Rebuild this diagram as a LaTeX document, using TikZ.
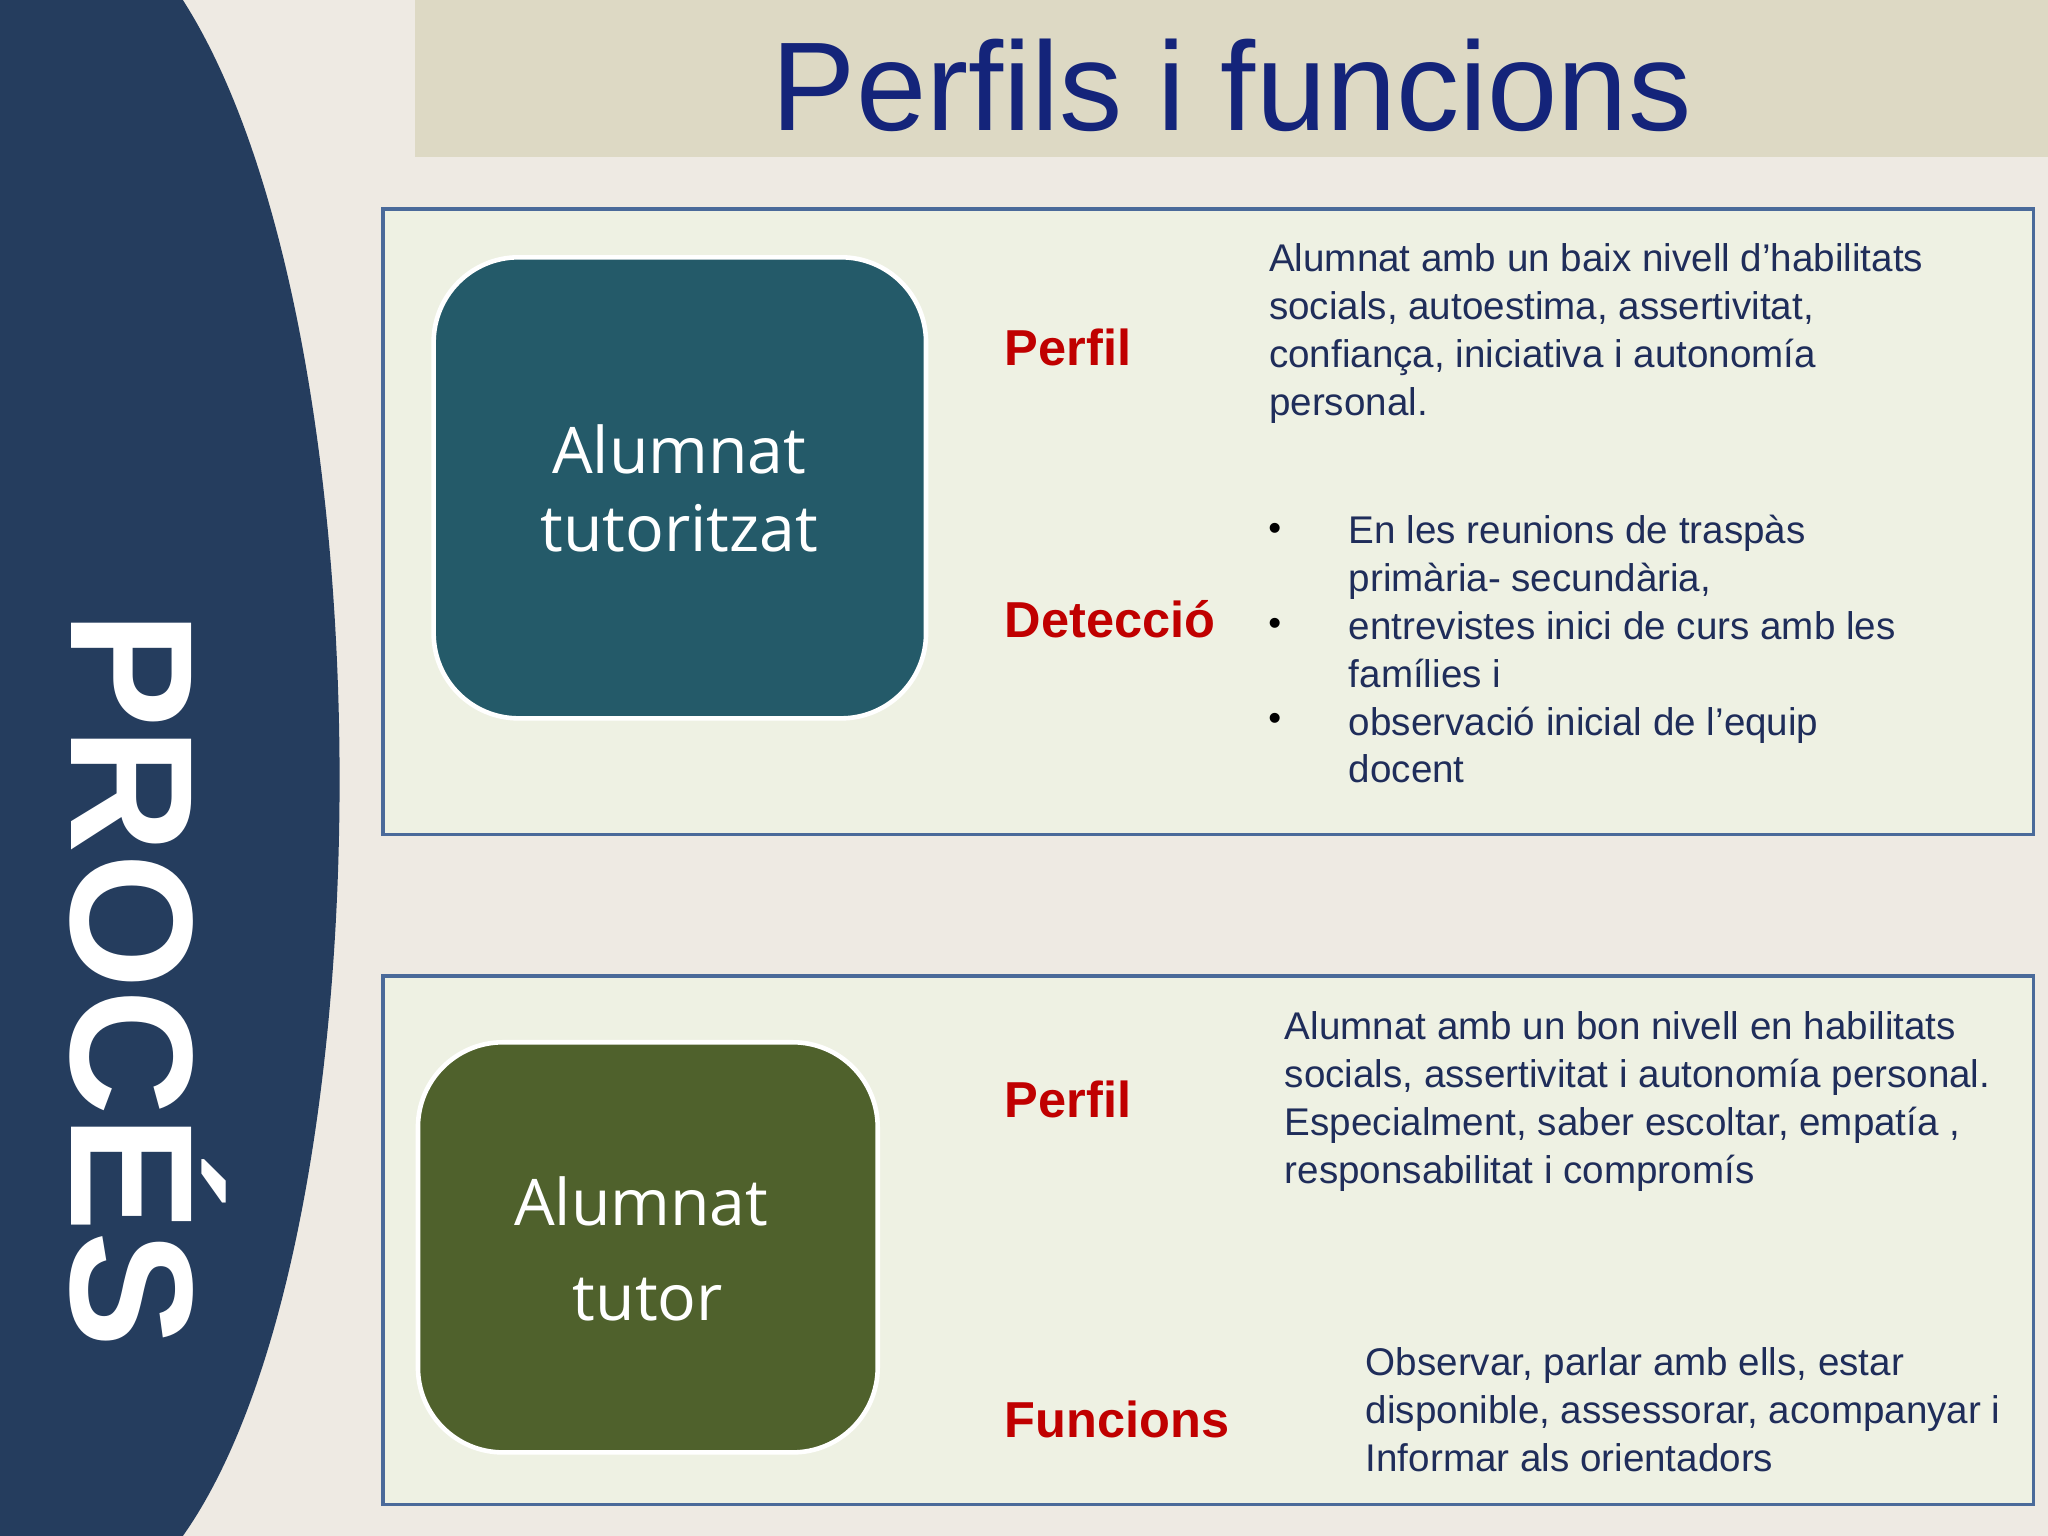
\documentclass[tikz,border=0pt]{standalone}
\usepackage{fontspec}
\setmainfont{Liberation Sans}
\newfontfamily\boxfont{Open Sans}
\definecolor{bg}{HTML}{EEEAE3}
\definecolor{navy}{HTML}{253D5E}
\definecolor{band}{HTML}{DDD9C4}
\definecolor{ttl}{HTML}{14247A}
\definecolor{panel}{HTML}{EEF1E3}
\definecolor{pborder}{HTML}{4A6A9A}
\definecolor{teal}{HTML}{245A69}
\definecolor{olive}{HTML}{4F612C}
\definecolor{redl}{HTML}{C00000}
\definecolor{txt}{HTML}{1F2D5A}
\tikzset{
 panelbox/.style={draw=pborder,line width=0.8pt,fill=panel},
 rbox/.style={draw=white,line width=1pt,rounded corners=0.65cm},
 boxtxt/.style={text=white,font=\boxfont\fontsize{14}{17}\selectfont,align=center},
 lbl/.style={anchor=west,text=redl,font=\bfseries\fontsize{11}{13}\selectfont},
 body/.style={anchor=north west,text=txt,font=\fontsize{8.4}{10.4}\selectfont,align=left,inner sep=0pt},
}
\begin{document}
\begin{tikzpicture}[x=0.01cm,y=-0.01cm]
\fill[bg] (0,0) rectangle (1568,1176);
\useasboundingbox (0,0) rectangle (1568,1176);
\fill[navy] (0,0) -- (140,0) .. controls (300,250) and (300,950) .. (140,1176) -- (0,1176) -- cycle;
\fill[band] (318,0) rectangle (1568,120);
\node[text=ttl,font=\fontsize{27.5}{30}\selectfont] (title) at (943,65) {Perfils i funcions};
\node[rotate=-90,text=white,font=\bfseries\fontsize{38}{40}\selectfont] (proc) at (113,750) {PROCÉS};
% panel 1
\draw[panelbox] (293,160) rectangle (1557,639);
\draw[rbox,fill=teal] (332,197) rectangle (709,550);
\node[boxtxt] (b1) at (520,374) {Alumnat\\tutoritzat};
\node[lbl] (p1) at (757,266) {Perfil};
\node[lbl] (d1) at (757,474) {Detecció};
\node[body] (t1) at (971,186) {Alumnat amb un baix nivell d’habilitats\\socials, autoestima, assertivitat,\\confiança, iniciativa i autonomía\\personal.};
\node[body] (t2) at (1032,394) {En les reunions de traspàs\\primària- secundària,\\entrevistes inici de curs amb les\\famílies i\\observació inicial de l’equip\\docent};
\foreach \y in {407,480,553} \node[text=black,font=\fontsize{8}{10}\selectfont] at (976,\y) {•};
% panel 2
\draw[panelbox] (293,747) rectangle (1557,1152);
\draw[rbox,fill=olive] (320,798) rectangle (672,1112);
\node[boxtxt] (b2a) at (491,920) {Alumnat};
\node[boxtxt] (b2b) at (496,995) {tutor};
\node[lbl] (p2) at (757,842) {Perfil};
\node[lbl] (f2) at (757,1087) {Funcions};
\node[body] (t3) at (983,774) {Alumnat amb un bon nivell en habilitats\\socials, assertivitat i autonomía personal.\\Especialment, saber escoltar, empatía ,\\responsabilitat i compromís};
\node[body] (t4) at (1045,1031) {Observar, parlar amb ells, estar\\disponible, assessorar, acompanyar i\\Informar als orientadors};
\end{tikzpicture}
\end{document}
